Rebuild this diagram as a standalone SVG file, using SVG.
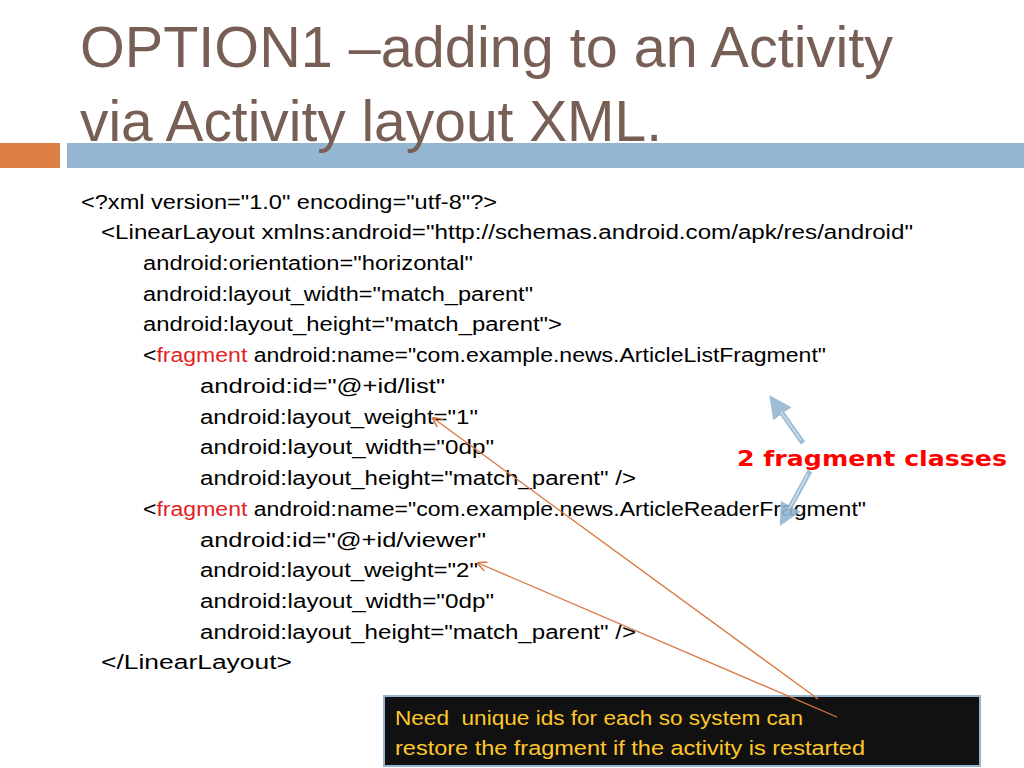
<svg xmlns="http://www.w3.org/2000/svg" width="1024" height="768" viewBox="0 0 1024 768">
<defs>
<style>
.title{font-family:"Liberation Sans","DejaVu Sans",sans-serif;font-size:57px;fill:#775F55}
.code{font-family:"Liberation Sans","DejaVu Sans",sans-serif;font-size:20px;fill:#000}
.kw{fill:#E31E24}
.note{font-family:"Liberation Sans","DejaVu Sans",sans-serif;font-size:20px;fill:#FFC72C;white-space:pre}
.label{font-family:"DejaVu Sans","Liberation Sans",sans-serif;font-weight:bold;font-size:21px;fill:#FF0000}
.orange{stroke:#D9773F;stroke-width:1.3;fill:none}
.blue{stroke:#94B6D2;stroke-width:5;fill:none;opacity:0.9}
.blueIn{stroke:#DCE8F2;stroke-width:1.2;fill:none}
</style>
<marker id="oa" viewBox="0 0 10 10" refX="9" refY="5" markerWidth="10" markerHeight="10" markerUnits="userSpaceOnUse" orient="auto">
<path d="M0,0 L10,5 L0,10" fill="none" stroke="#D9773F" stroke-width="1.5"/>
</marker>
<marker id="ba" viewBox="0 0 10 10" refX="8" refY="5" markerWidth="4.5" markerHeight="4.5" orient="auto">
<path d="M0,0 L10,5 L0,10 Z" fill="#94B6D2"/>
</marker>
</defs>
<rect width="1024" height="768" fill="#fff"/>
<g id="bars">
<rect x="0" y="143" width="60" height="25" fill="#DD8047"/>
<rect x="67" y="143" width="957" height="25" fill="#94B6D2"/>
</g>
<g id="title">
<text class="title" x="80" y="67" textLength="813" lengthAdjust="spacingAndGlyphs">OPTION1 –adding to an Activity</text>
<text class="title" x="80" y="141" textLength="582" lengthAdjust="spacingAndGlyphs">via Activity layout XML.</text>
</g>
<g id="code">
<text class="code" x="81" y="209" textLength="416" lengthAdjust="spacingAndGlyphs">&lt;?xml version="1.0" encoding="utf-8"?&gt;</text>
<text class="code" x="101" y="239" textLength="812" lengthAdjust="spacingAndGlyphs">&lt;LinearLayout xmlns:android="http://schemas.android.com/apk/res/android"</text>
<text class="code" x="143" y="270" textLength="330" lengthAdjust="spacingAndGlyphs">android:orientation="horizontal"</text>
<text class="code" x="143" y="301" textLength="390" lengthAdjust="spacingAndGlyphs">android:layout_width="match_parent"</text>
<text class="code" x="143" y="331" textLength="419" lengthAdjust="spacingAndGlyphs">android:layout_height="match_parent"&gt;</text>
<text class="code" x="143" y="362" textLength="683" lengthAdjust="spacingAndGlyphs">&lt;<tspan class="kw">fragment</tspan> android:name="com.example.news.ArticleListFragment"</text>
<text class="code" x="200" y="393" textLength="245" lengthAdjust="spacingAndGlyphs">android:id="@+id/list"</text>
<text class="code" x="200" y="424" textLength="278" lengthAdjust="spacingAndGlyphs">android:layout_weight="1"</text>
<text class="code" x="200" y="454" textLength="294" lengthAdjust="spacingAndGlyphs">android:layout_width="0dp"</text>
<text class="code" x="200" y="485" textLength="436" lengthAdjust="spacingAndGlyphs">android:layout_height="match_parent" /&gt;</text>
<text class="code" x="143" y="516" textLength="723" lengthAdjust="spacingAndGlyphs">&lt;<tspan class="kw">fragment</tspan> android:name="com.example.news.ArticleReaderFragment"</text>
<text class="code" x="200" y="547" textLength="286" lengthAdjust="spacingAndGlyphs">android:id="@+id/viewer"</text>
<text class="code" x="200" y="577" textLength="278" lengthAdjust="spacingAndGlyphs">android:layout_weight="2"</text>
<text class="code" x="200" y="608" textLength="294" lengthAdjust="spacingAndGlyphs">android:layout_width="0dp"</text>
<text class="code" x="200" y="639" textLength="436" lengthAdjust="spacingAndGlyphs">android:layout_height="match_parent" /&gt;</text>
<text class="code" x="101" y="669" textLength="191" lengthAdjust="spacingAndGlyphs">&lt;/LinearLayout&gt;</text>
</g>
<g id="label-fragment-classes">
<text class="label" x="737" y="466" textLength="270" lengthAdjust="spacingAndGlyphs">2 fragment classes</text>
</g>
<g id="note">
<rect x="384" y="696" width="596" height="70" fill="#111111" stroke="#94B6D2" stroke-width="2"/>
<text class="note" x="395" y="725" textLength="408" lengthAdjust="spacingAndGlyphs" xml:space="preserve">Need  unique ids for each so system can</text>
<text class="note" x="395" y="755" textLength="470" lengthAdjust="spacingAndGlyphs">restore the fragment if the activity is restarted</text>
</g>
<g id="connectors">
<line class="blue" x1="803" y1="443" x2="772" y2="399" marker-end="url(#ba)"/>
<line class="blueIn" x1="801" y1="440" x2="781" y2="412"/>
<line class="blue" x1="810" y1="471" x2="782" y2="522" marker-end="url(#ba)"/>
<line class="blueIn" x1="808" y1="474" x2="789" y2="509"/>
<line class="orange" x1="818" y1="699" x2="433" y2="418" marker-end="url(#oa)"/>
<line class="orange" x1="837" y1="717" x2="478" y2="563" marker-end="url(#oa)"/>
</g>
</svg>
